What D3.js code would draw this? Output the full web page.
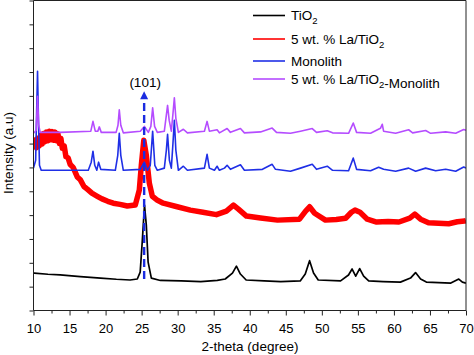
<!DOCTYPE html>
<html>
<head>
<meta charset="utf-8">
<script src="https://cdn.jsdelivr.net/npm/d3@7"></script>
<style>
  body { margin: 0; background: #fff; }
  svg { display: block; font-family: "Liberation Sans", Arial, Helvetica, sans-serif; }
</style>
</head>
<body>
<svg id="chart" width="474" height="355"></svg>
<script>
// ---- data (2-theta in degrees, intensity in arbitrary units) ----
const seriesNames = ["TiO2", "5 wt. % La/TiO2", "Monolith", "5 wt. % La/TiO2-Monolith"];
const seriesColors = ["#000000", "#ff0000", "#1f2fe6", "#b54cff"];

const tio2 = [[10.0,157],[10.1,157],[12.0,152],[13.7,149],[16.5,142],[19.3,136],[21.5,131],[23.4,128],[24.4,132],[24.8,161],[25.1,295],[25.4,442],[25.65,358],[25.9,203],[26.35,136],[27.6,126],[30.5,124],[33.2,121],[35.5,126],[36.6,132],[37.6,157],[38.15,186],[38.7,153],[39.5,128],[42.0,124],[44.3,121],[47.0,124],[47.7,153],[48.3,209],[48.85,157],[49.5,128],[52.6,124],[53.7,149],[54.2,174],[54.7,144],[55.25,176],[55.8,144],[56.5,124],[58.5,121],[60.9,119],[62.3,136],[63.0,159],[63.7,132],[64.5,119],[67.9,115],[69.0,132],[69.5,119],[70,115]];

const laTio2 = [[10.0,689],[10.2,715],[10.4,682],[10.6,722],[10.8,690],[11.0,735],[11.2,698],[11.4,742],[11.6,708],[11.8,748],[12.0,712],[12.2,752],[12.4,716],[12.6,750],[12.8,714],[13.0,748],[13.2,712],[13.4,740],[13.6,700],[13.8,722],[14.0,680],[14.26,690],[14.5,645],[14.8,640],[15.1,612],[15.5,600],[16.07,560],[16.5,548],[17.0,520],[17.46,509],[18.1,492],[18.85,479],[19.5,468],[20.3,458],[21.07,450],[22.0,445],[23.01,438],[24.12,442],[24.68,505],[24.96,609],[25.3,714],[25.65,651],[26.07,534],[26.49,479],[27.2,462],[28.0,450],[29.8,436],[31.76,421],[33.5,412],[35.37,402],[36.76,417],[37.74,442],[38.43,425],[39.54,396],[41.5,388],[43.85,379],[46.9,383],[47.75,417],[48.3,435],[49.0,408],[50.5,379],[52.0,382],[53.3,387],[54.1,412],[54.6,421],[55.3,412],[56.3,383],[57.6,371],[59.2,373],[60.7,371],[62.2,387],[62.9,404],[63.7,383],[64.8,368],[66.2,366],[67.6,364],[68.8,372],[69.8,375],[70,377]];

const monolith = [[10.0,597],[10.3,630],[10.44,839],[10.56,1003],[10.69,798],[10.83,609],[11.07,588],[17.6,588],[18.01,622],[18.25,668],[18.5,609],[18.78,588],[19.03,622],[19.33,592],[21.35,588],[21.69,651],[21.9,743],[22.11,651],[22.46,588],[24.82,592],[25.38,622],[25.8,588],[26.2,609],[26.53,752],[26.83,609],[27.18,588],[28.15,597],[28.43,672],[28.6,739],[28.85,630],[29.12,597],[29.33,693],[29.54,798],[29.75,672],[30.1,588],[30.79,605],[31.35,588],[33.71,597],[34.08,655],[34.4,597],[35.1,588],[35.47,605],[35.79,588],[36.49,597],[36.86,609],[37.32,592],[38.71,611],[39.26,588],[41.76,592],[43.11,613],[43.57,592],[45.65,584],[47.04,597],[48.67,613],[49.26,592],[50.75,605],[51.49,588],[53.71,586],[54.36,639],[54.82,592],[56.76,586],[57.88,601],[58.57,592],[60.24,584],[62.04,597],[63.01,584],[64.4,597],[65.79,586],[67.18,592],[68.57,584],[69.68,602],[70,597]];

const laMonolith = [[10.0,743],[10.38,756],[10.56,898],[10.72,777],[10.93,747],[13.7,747],[17.95,752],[18.25,793],[18.57,752],[18.92,752],[19.13,770],[19.4,747],[21.46,747],[21.72,777],[21.9,842],[22.11,777],[22.46,745],[24.82,752],[25.38,772],[25.93,747],[26.28,772],[26.53,850],[26.8,772],[27.18,747],[28.15,752],[28.43,819],[28.6,860],[28.82,798],[29.12,752],[29.33,819],[29.54,892],[29.75,806],[30.1,747],[30.79,760],[31.35,745],[33.71,752],[34.08,793],[34.4,752],[35.47,758],[35.79,745],[36.86,763],[37.32,747],[38.71,763],[39.26,745],[41.5,749],[43.11,765],[43.71,747],[45.65,743],[47.04,752],[48.67,763],[49.26,747],[50.75,754],[51.49,745],[53.71,743],[54.36,786],[54.82,747],[56.76,743],[58.13,764],[58.38,781],[58.57,752],[60.24,743],[62.04,758],[62.6,745],[64.4,755],[65.1,743],[67.18,749],[68.57,743],[69.68,759],[70,756]];

const xMajorTicks = [10, 15, 20, 25, 30, 35, 40, 45, 50, 55, 60, 65, 70];
const xMinorTicks = [12.5, 17.5, 22.5, 27.5, 32.5, 37.5, 42.5, 47.5, 52.5, 57.5, 62.5, 67.5];
const yTicks = [0, 100, 200, 300, 400, 500, 600, 700, 800, 900, 1000, 1100, 1200, 1300];

const peakLabel = "(101)";
const peakPos = 25.35;
const peakArrow = [132, 919]; // from / to intensity

const xLabel = "2-theta (degree)";
const yLabel = "Intensity (a.u)";

// ---- drawing ----
const svg = d3.select("#chart");
const x = d3.scaleLinear().domain([10, 70]).range([33.5, 466]);
const y = d3.scaleLinear().domain([0, 1300]).range([310.5, 0.5]);

const line = d3.line().x(d => x(d[0])).y(d => y(d[1]));

const data = [tio2, laTio2, monolith, laMonolith];
const widths = [1.7, 5.5, 1.6, 1.6];
const order = [0, 1, 2, 3];

svg.append("clipPath").attr("id", "clip")
  .append("rect").attr("x", 33.5).attr("y", 0.5).attr("width", 432.5).attr("height", 310);

const plot = svg.append("g").attr("clip-path", "url(#clip)");
order.forEach(i => {
  plot.append("path")
    .datum(data[i])
    .attr("fill", "none")
    .attr("stroke", seriesColors[i])
    .attr("stroke-width", widths[i])
    .attr("stroke-linejoin", "round")
    .attr("d", line);
});

// dashed arrow
const ax = x(peakPos);
svg.append("line")
  .attr("x1", ax).attr("x2", ax)
  .attr("y1", y(peakArrow[0])).attr("y2", y(peakArrow[1]) + 6)
  .attr("stroke", "#1a2be0").attr("stroke-width", 2.4)
  .attr("stroke-dasharray", "8,4");
const tipY = y(peakArrow[1]);
svg.append("path")
  .attr("d", `M${ax},${tipY} L${ax - 4},${tipY + 8} L${ax + 4},${tipY + 8} Z`)
  .attr("fill", "#1a2be0");
svg.append("text")
  .attr("x", ax + 1).attr("y", tipY - 4)
  .attr("text-anchor", "middle")
  .attr("font-size", 13.5)
  .attr("fill", "#000")
  .text(peakLabel);

// frame (top and right)
svg.append("path")
  .attr("d", `M33.5,0.5 H466 V310.5`)
  .attr("fill", "none").attr("stroke", "#222").attr("stroke-width", 1);

// axes
const xAxis = svg.append("g").attr("transform", "translate(0,310.5)")
  .call(d3.axisBottom(x).tickValues(xMajorTicks).tickSize(5).tickPadding(8).tickFormat(d3.format("d")));
svg.append("g").attr("transform", "translate(0,310.5)")
  .call(d3.axisBottom(x).tickValues(xMinorTicks).tickSize(3).tickFormat(""))
  .select(".domain").remove();
xAxis.selectAll("text").attr("font-size", 13).attr("font-family", "Liberation Sans, Arial, sans-serif").attr("fill", "#000");
const yAxis = svg.append("g").attr("transform", "translate(33.5,0)")
  .call(d3.axisLeft(y).tickValues(yTicks).tickSize(4).tickFormat(""));
svg.selectAll(".domain").attr("stroke", "#222");
svg.selectAll(".tick line").attr("stroke", "#222");
xAxis.select(".domain").attr("d", "M33.5,0H466");
yAxis.select(".domain").attr("d", "M0,310.5V0.5");

svg.append("text")
  .attr("x", 250).attr("y", 351)
  .attr("text-anchor", "middle").attr("font-size", 13.5).attr("fill", "#000")
  .text(xLabel);
svg.append("text")
  .attr("transform", "translate(13,153) rotate(-90)")
  .attr("text-anchor", "middle").attr("font-size", 13.5).attr("fill", "#000")
  .text(yLabel);

// legend
const legendY = [15.5, 39, 61, 79];
const lg = svg.append("g");
function writeLabel(t, name) {
  const parts = name.split("TiO2");
  parts.forEach((p, k) => {
    if (p) t.append("tspan").text(p);
    if (k < parts.length - 1) {
      t.append("tspan").text("TiO");
      t.append("tspan").attr("font-size", 9.5).attr("dy", 4).text("2");
      t.append("tspan").attr("dy", -4).text("");
    }
  });
}
seriesNames.forEach((name, i) => {
  lg.append("line")
    .attr("x1", 253).attr("x2", 285)
    .attr("y1", legendY[i]).attr("y2", legendY[i])
    .attr("stroke", seriesColors[i]).attr("stroke-width", 1.6);
  const t = lg.append("text")
    .attr("x", 291).attr("y", legendY[i] + 4.8)
    .attr("font-size", 13.5).attr("fill", "#000");
  writeLabel(t, name);
});
</script>
</body>
</html>
